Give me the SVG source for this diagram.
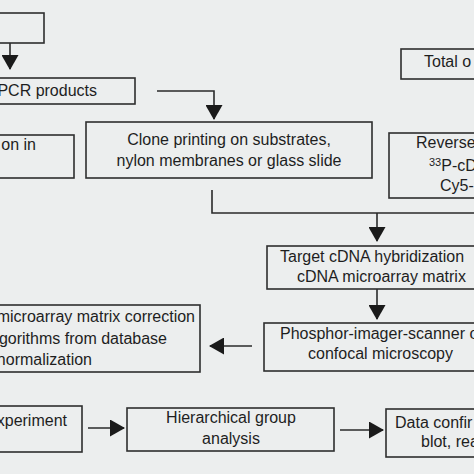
<svg xmlns="http://www.w3.org/2000/svg" width="474" height="474" viewBox="0 0 474 474">
<style>
.box{fill:none;stroke:#2e2e2e;stroke-width:1.6}
.t{font-family:"Liberation Sans",Arial,sans-serif;font-size:16px;fill:#1e1e1e}
.c{stroke:#2a2a2a;stroke-width:1.6;fill:none}
</style>
<defs>
<marker id="ah" markerUnits="userSpaceOnUse" markerWidth="15" markerHeight="17" refX="14" refY="8.5" orient="auto">
<path d="M0,0 L15,8.5 L0,17 z" fill="#1a1a1a"/>
</marker>
</defs>
<rect width="474" height="474" fill="#eceeee"/>
<g id="connectors">
<path class="c" d="M10,43 V69" marker-end="url(#ah)"/>
<path class="c" d="M157,91 H214 V119" marker-end="url(#ah)"/>
<path class="c" d="M212,190 V213 H476"/>
<path class="c" d="M377,213 V241" marker-end="url(#ah)"/>
<path class="c" d="M377,289 V319" marker-end="url(#ah)"/>
<path class="c" d="M252,346 H210" marker-end="url(#ah)"/>
<path class="c" d="M88,428 H124" marker-end="url(#ah)"/>
<path class="c" d="M340,430 H383" marker-end="url(#ah)"/>
</g>
<g id="n-top"><rect class="box" x="-10" y="13" width="54" height="30"/></g>
<g id="n-pcr"><rect class="box" x="-10" y="78" width="145" height="26"/>
<text class="t" x="97" y="96" text-anchor="end">PCR products</text></g>
<g id="n-left2"><rect class="box" x="-10" y="135" width="84" height="43"/>
<text class="t" x="36" y="150" text-anchor="end">on in</text></g>
<g id="n-clone"><rect class="box" x="86" y="122" width="286" height="56"/>
<text class="t" x="229" y="145" text-anchor="middle">Clone printing on substrates,</text>
<text class="t" x="229" y="166" text-anchor="middle">nylon membranes or glass slide</text></g>
<g id="n-total"><rect class="box" x="401" y="49" width="90" height="30"/>
<text class="t" x="424" y="67">Total o</text></g>
<g id="n-reverse"><rect class="box" x="389" y="133" width="100" height="65"/>
<text class="t" x="416" y="148">Reverse</text>
<text class="t" x="429" y="171"><tspan font-size="11" dy="-5">33</tspan><tspan dy="5">P-cD</tspan></text>
<text class="t" x="440" y="191">Cy5-</text></g>
<g id="n-target"><rect class="box" x="267" y="246" width="220" height="43"/>
<text class="t" x="280" y="262">Target cDNA hybridization</text>
<text class="t" x="297" y="282">cDNA microarray matrix</text></g>
<g id="n-phosphor"><rect class="box" x="264" y="323" width="220" height="48"/>
<text class="t" x="280" y="339">Phosphor-imager-scanner o</text>
<text class="t" x="308" y="359">confocal microscopy</text></g>
<g id="n-correction"><rect class="box" x="-10" y="305" width="210" height="67"/>
<text class="t" x="195" y="322" text-anchor="end">microarray matrix correction</text>
<text class="t" x="167" y="344" text-anchor="end">algorithms from database</text>
<text class="t" x="92" y="365" text-anchor="end">normalization</text></g>
<g id="n-experiment"><rect class="box" x="-10" y="406" width="92" height="46"/>
<text class="t" x="67" y="426" text-anchor="end">experiment</text></g>
<g id="n-hier"><rect class="box" x="127" y="408" width="207" height="43"/>
<text class="t" x="231" y="423" text-anchor="middle">Hierarchical group</text>
<text class="t" x="231" y="444" text-anchor="middle">analysis</text></g>
<g id="n-data"><rect class="box" x="386" y="409" width="100" height="48"/>
<text class="t" x="395" y="428">Data confir</text>
<text class="t" x="421" y="447">blot, rea</text></g>
</svg>
